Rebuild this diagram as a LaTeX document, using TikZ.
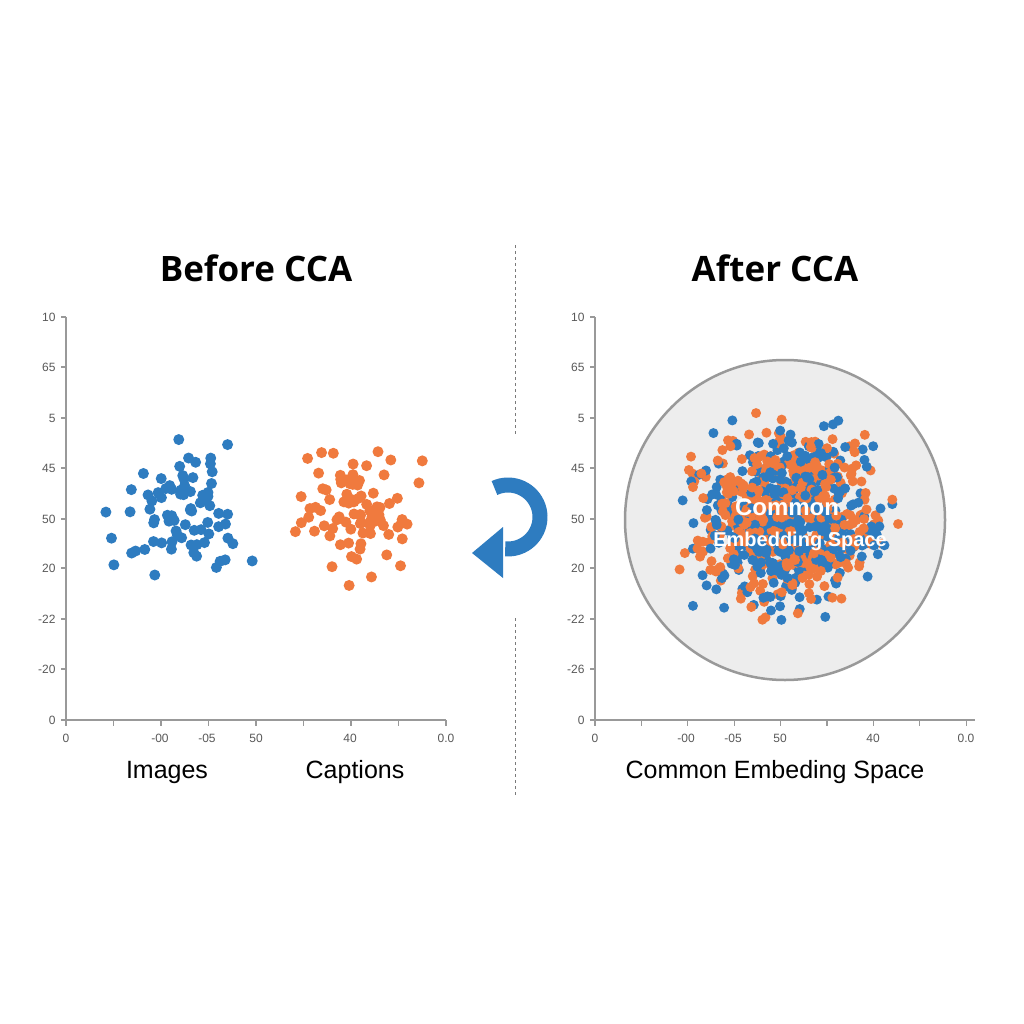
\documentclass[tikz,border=0pt]{standalone}
\usepackage{fontspec}
\setmainfont{Liberation Sans}
\newfontfamily\titlefont{Open Sans}
\definecolor{cblue}{HTML}{2E7CC0}
\definecolor{corange}{HTML}{F07A3E}
\definecolor{axgray}{HTML}{999999}
\begin{document}
\begin{tikzpicture}[x=1pt,y=-1pt,
  ticklab/.style={font=\fontsize{12}{12}\selectfont, text=black!65},
  axisline/.style={draw=axgray, line width=1.3pt},
  title/.style={font=\titlefont\bfseries\fontsize{35}{35}\selectfont},
  sublab/.style={font=\fontsize{25}{25}\selectfont}]
\useasboundingbox[fill=white] (0,0) rectangle (1024,1024);
% axes
\foreach \ox/\lab in {66/L,595/R}{
  \draw[axisline] (\ox,317) -- (\ox,720) -- (\ox+380,720);
}
\foreach \yy/\t in {317/10,367/65,418/5,468/45,519/50,568/20,619/-22,669/-20,720/0}{
  \draw[axisline] (66,\yy) -- (61,\yy);
  \node[ticklab, anchor=east] (ly\yy) at (59,\yy) {\t};
}
\foreach \yy/\t in {317/10,367/65,418/5,468/45,519/50,568/20,619/-22,669/-26,720/0}{
  \draw[axisline] (595,\yy) -- (590,\yy);
  \node[ticklab, anchor=east] (ry\yy) at (588,\yy) {\t};
}
\foreach \i in {0,...,8}{
  \draw[axisline] (66+\i*47.5,720) -- (66+\i*47.5,726);
  \draw[axisline] (595+\i*46.4,720) -- (595+\i*46.4,726);
}
\foreach \xx/\t in {66/0,160/-00,207/-05,256/50,350/40,446/0.0}{
  \node[ticklab] (lx\xx) at (\xx,738) {\t};}
\foreach \xx/\t in {595/0,686/-00,733/-05,780/50,873/40,966/0.0}{
  \node[ticklab] (rx\xx) at (\xx,738) {\t};}
% titles & labels
\node[title] (t1) at (256,268) {Before CCA};
\node[title] (t2) at (775,268) {After CCA};
\node[sublab] (s1) at (167,772) {Images};
\node[sublab] (s2) at (355,772) {Captions};
\node[sublab] (s3) at (775,772) {Common Embeding Space};
% divider
\draw[axgray!80!black, dashed, line width=1pt] (515,245) -- (515,435);
\draw[axgray!80!black, dashed, line width=1pt] (515,618) -- (515,797);
% left clusters
\pgfmathsetseed{11}
\foreach \k in {1,...,80}{
  \pgfmathsetmacro\dx{(rand+rand+rand)*28}
  \pgfmathsetmacro\dy{(rand+rand+rand)*30}
  \fill[cblue] (177+\dx,515+\dy) circle (5.5);
}
\foreach \k in {1,...,85}{
  \pgfmathsetmacro\dx{(rand+rand+rand)*28}
  \pgfmathsetmacro\dy{(rand+rand+rand)*30}
  \fill[corange] (357+\dx,515+\dy) circle (5.5);
}
% right circle
\draw[fill=black!7, draw=black!40, line width=2.5pt] (785,520) circle (160);
\foreach \k in {1,...,450}{
  \pgfmathsetmacro\dx{(rand+rand+rand)*42}
  \pgfmathsetmacro\dy{(rand+rand+rand)*40}
  \fill[cblue] (785+\dx,518+\dy) circle (5);
  \pgfmathsetmacro\ex{(rand+rand+rand)*42}
  \pgfmathsetmacro\ey{(rand+rand+rand)*40}
  \fill[corange] (785+\ex,518+\ey) circle (5);
}
\node[font=\bfseries\fontsize{24}{24}\selectfont, text=white] (c1) at (787,507) {Common};
\node[font=\bfseries\fontsize{20}{20}\selectfont, text=white] (c2) at (800,541) {Embedding Space};
% curved arrow
\draw[cblue, line width=15pt] (508,517) ++(-115:32) arc (-115:95:32);
\fill[cblue] (472,553) -- (503,527) -- (503,578) -- cycle;
\end{tikzpicture}
\end{document}
